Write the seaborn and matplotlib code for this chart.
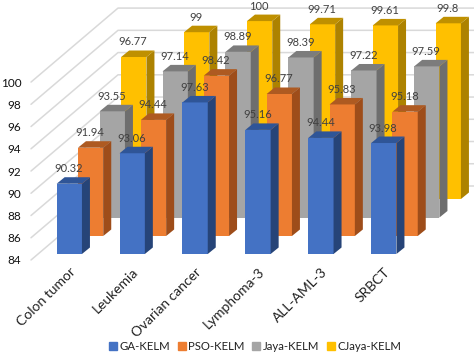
import matplotlib
matplotlib.use('Agg')
import matplotlib.pyplot as plt
from matplotlib.patches import Patch, Polygon
import seaborn as sns

categories = ['Colon tumor', 'Leukemia', 'Ovarian cancer', 'Lymphoma-3', 'ALL-AML-3', 'SRBCT']
ga_kelm = [90.32, 93.06, 97.63, 95.16, 94.44, 93.98]
pso_kelm = [91.94, 94.44, 98.42, 96.77, 95.83, 95.18]
jaya_kelm = [93.55, 97.14, 98.89, 98.39, 97.22, 97.59]
cjaya_kelm = [96.77, 99, 100, 99.71, 99.61, 99.8]
y_ticks = [84, 86, 88, 90, 92, 94, 96, 98, 100]

W, H = 474, 355
sns.set_theme(style='white')
plt.rcParams['font.family'] = ['Lato', 'DejaVu Sans']

fig = plt.figure(figsize=(W / 100, H / 100), dpi=100)

PX_Y = 11.12   # pixels per unit on the value axis
PX_X = 62.9    # pixels per category


def px_axes(left, bottom, width, height, zorder):
    # axes placed by pixel position, measured from the top left of the image
    ax = fig.add_axes([left / W, 1 - bottom / H, width / W, height / H], zorder=zorder)
    ax.patch.set_visible(False)
    return ax


# back wall and side wall grid
grid = px_axes(31, 260, 443, 16 * PX_Y, 0)
grid.set_xlim(0, 443)
grid.set_ylim(84, 100)
wall_rise = 74 / PX_Y
for v in y_ticks:
    grid.plot([0, 87, 443], [v, v + wall_rise, v + wall_rise], color='#d9d9d9', lw=1.1, clip_on=False)
grid.set_xticks([])
grid.set_yticks(y_ticks)
grid.tick_params(axis='y', length=0, pad=7, labelsize=8.5, labelcolor='#111111')
sns.despine(ax=grid, left=True, bottom=True)

# back to front: (values, name, front, top, side, x offset, y offset)
layers = [
    (cjaya_kelm, 'CJaya-KELM', '#ffc000', '#bf9000', '#ad8200', 64.5, 55),
    (jaya_kelm, 'Jaya-KELM', '#a5a5a5', '#7c7c7c', '#6e6e6e', 43, 36.5),
    (pso_kelm, 'PSO-KELM', '#ed7d31', '#ae5a21', '#9e4d1a', 21.3, 18),
    (ga_kelm, 'GA-KELM', '#4472c4', '#2f5597', '#264478', 0, 0),
]

depth_x = 8 / PX_X
depth_y = 6.5 / PX_Y
for i, (values, name, front, top, side, off_x, off_y) in enumerate(layers):
    ax = px_axes(37.85 + off_x, 254 - off_y, 6 * PX_X, 18 * PX_Y, i + 1)
    sns.barplot(x=categories, y=values, color=front, saturation=1, width=0.402, linewidth=0, ax=ax)
    ax.set_xlim(-0.5, 5.5)
    ax.set_ylim(84, 102)
    for bar, v in zip(ax.patches, values):
        x0, x1 = bar.get_x(), bar.get_x() + bar.get_width()
        ax.add_patch(Polygon([(x1, 84), (x1 + depth_x, 84 + depth_y), (x1 + depth_x, v + depth_y), (x1, v)],
                             color=side, lw=0, clip_on=False))
        ax.add_patch(Polygon([(x0, v), (x0 + depth_x, v + depth_y), (x1 + depth_x, v + depth_y), (x1, v)],
                             color=top, lw=0, clip_on=False))
        fig.text(bar.get_x() + bar.get_width() / 2 - 0.01, v + 15 / PX_Y, f'{v:g}', transform=ax.transData,
                 ha='center', va='center', fontsize=8, color='#404040', zorder=10)
    ax.set_yticks([])
    ax.set_ylabel('')
    sns.despine(ax=ax, left=True, bottom=True)
    if name == 'GA-KELM':
        ax.tick_params(axis='x', length=0, pad=8.5)
        ax.set_xticks(range(len(categories)))
        ax.set_xticklabels(categories, rotation=45, ha='right', va='top', rotation_mode='anchor',
                           fontsize=10, color='#222222')
    else:
        ax.set_xticks([])

handles = [Patch(color=l[2], label=l[1]) for l in layers[::-1]]
fig.legend(handles=handles, ncol=4, loc='center', bbox_to_anchor=(255 / W, 1 - 346 / H), frameon=False,
           fontsize=8.2, handlelength=0.7, handleheight=0.7, handletextpad=0.2, columnspacing=0.7,
           labelcolor='#222222')

fig.savefig('out.png', dpi=100)
